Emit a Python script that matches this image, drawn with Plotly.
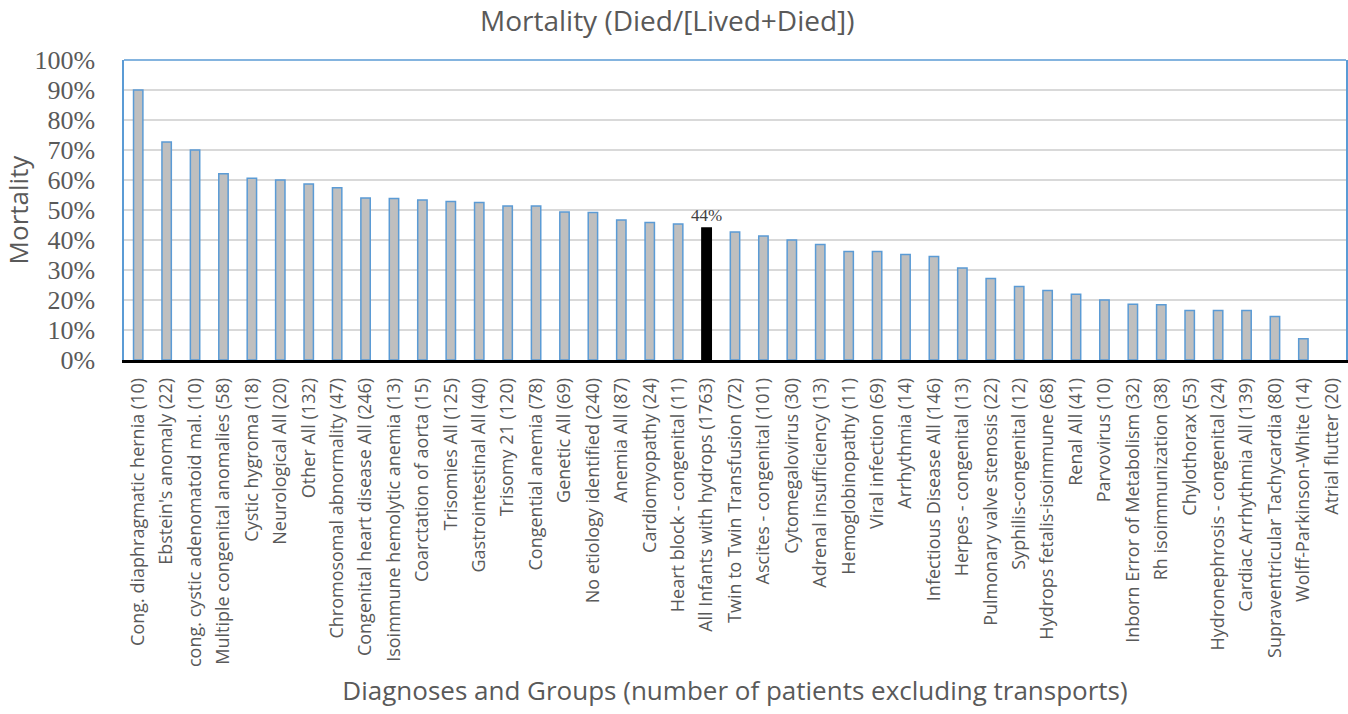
import plotly.graph_objects as go

categories = [
    "Cong. diaphragmatic hernia (10)", "Ebstein's anomaly (22)", "cong. cystic adenomatoid mal. (10)",
    "Multiple congenital anomalies (58)", "Cystic hygroma (18)", "Neurological All (20)", "Other All (132)",
    "Chromosomal abnormality (47)", "Congenital heart disease All (246)", "Isoimmune hemolytic anemia (13)",
    "Coarctation of aorta (15)", "Trisomies All (125)", "Gastrointestinal All (40)", "Trisomy 21 (120)",
    "Congential anemia (78)", "Genetic All (69)", "No etiology identified (240)", "Anemia All (87)",
    "Cardiomyopathy (24)", "Heart block - congenital (11)", "All Infants with hydrops (1763)",
    "Twin to Twin Transfusion (72)", "Ascites - congenital (101)", "Cytomegalovirus (30)",
    "Adrenal insufficiency (13)", "Hemoglobinopathy (11)", "Viral infection (69)", "Arrhythmia (14)",
    "Infectious Disease All (146)", "Herpes - congenital (13)", "Pulmonary valve stenosis (22)",
    "Syphilis-congenital (12)", "Hydrops fetalis-isoimmune (68)", "Renal All (41)", "Parvovirus (10)",
    "Inborn Error of Metabolism (32)", "Rh isoimmunization (38)", "Chylothorax (53)",
    "Hydronephrosis - congenital (24)", "Cardiac Arrhythmia All (139)", "Supraventricular Tachycardia (80)",
    "Wolff-Parkinson-White (14)", "Atrial flutter (20)",
]

mortality = [
    0.90, 0.727, 0.70, 0.621, 0.606, 0.60, 0.587, 0.574, 0.54, 0.538,
    0.533, 0.528, 0.525, 0.513, 0.513, 0.493, 0.492, 0.467, 0.458, 0.453,
    0.44, 0.427, 0.413, 0.40, 0.385, 0.362, 0.362, 0.352, 0.345, 0.307,
    0.272, 0.245, 0.232, 0.219, 0.20, 0.186, 0.184, 0.165, 0.165, 0.165,
    0.145, 0.071, 0.0,
]

highlight = "All Infants with hydrops (1763)"
highlight_label = "44%"

fill_colors = ["#000000" if c == highlight else "#bfbfbf" for c in categories]
line_colors = ["#000000" if c == highlight else "#5b9bd5" for c in categories]
line_widths = [0 if v == 0 else 1.5 for v in mortality]
texts = [highlight_label if c == highlight else "" for c in categories]

fig = go.Figure()
fig.add_trace(go.Bar(
    x=categories, y=mortality, width=0.33,
    marker=dict(color=fill_colors, line=dict(color=line_colors, width=line_widths)),
    text=texts, textposition="outside", cliponaxis=False, constraintext="none",
    textfont=dict(family="Liberation Serif", size=17, color="#404040"),
    hoverinfo="x+y",
))

fig.update_layout(
    width=1348, height=714,
    margin=dict(l=124, r=2, t=60, b=354),
    paper_bgcolor="white", plot_bgcolor="white",
    showlegend=False,
    title=dict(text="Mortality (Died/[Lived+Died])", x=0.495, xanchor="center", y=0.971, yanchor="middle",
               font=dict(family="Open Sans", size=28, color="#595959")),
    xaxis=dict(
        automargin=False,
        tickangle=-90, showgrid=False, showline=True, linecolor="#000000", linewidth=2.5,
        tickfont=dict(family="Open Sans", size=18, color="#595959"),
        ticklabelstandoff=8,
        title=dict(text="Diagnoses and Groups (number of patients excluding transports)",
                   font=dict(family="Open Sans", size=26, color="#595959"), standoff=16),
    ),
    yaxis=dict(
        automargin=False,
        range=[0, 1], dtick=0.1, tickformat=".0%",
        showgrid=True, gridcolor="#d9d9d9", gridwidth=1.5, zeroline=False,
        showline=True, linecolor="#5b9bd5", linewidth=1.5, mirror=True,
        tickfont=dict(family="Liberation Serif", size=26, color="#595959"),
        ticklabelstandoff=22,
        title=dict(text="Mortality", font=dict(family="Open Sans", size=26, color="#595959"), standoff=10),
    ),
    shapes=[dict(type="line", xref="paper", yref="paper", x0=0, x1=1, y0=1, y1=1,
                 line=dict(color="#5b9bd5", width=1.5))],
)

fig.write_html("out.html", config={"displayModeBar": False},
               post_script="document.body.style.margin='0';document.body.style.overflow='hidden';")
